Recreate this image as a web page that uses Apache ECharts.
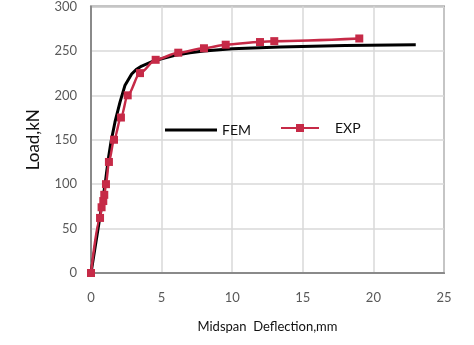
<!DOCTYPE html>
<html>
<head>
<meta charset="utf-8">
<script src="https://cdn.jsdelivr.net/npm/echarts@6/dist/echarts.min.js"></script>
<style>
  html, body { margin: 0; padding: 0; background: #fff; }
  #chart { width: 474px; height: 345px; }
</style>
</head>
<body>
<div id="chart"></div>
<script>
// Load–deflection response: finite element model vs. test
const femDeflection = [0, 0.55, 1.0, 1.11, 1.25, 1.42, 1.7, 2.05, 2.4, 2.88, 3.2, 3.59, 4.41, 5.2, 5.95, 7, 8, 10, 13.4, 18, 23];
const femLoad       = [0, 55, 100, 114, 131, 148, 170, 192, 211, 224, 229, 233, 238.5, 242, 245, 248, 250, 252.5, 254.5, 256, 257];

const expDeflection = [0, 0.64, 0.75, 0.87, 0.94, 1.06, 1.27, 1.63, 2.12, 2.6, 3.47, 4.58, 6.18, 8.0, 9.54, 11.97, 12.98, 19.0];
const expLoad       = [0, 62, 74, 81, 88, 100, 125, 150, 175, 200, 225, 240, 248, 253, 257, 260, 261, 264];

const xTicks = [0, 5, 10, 15, 20, 25];
const yTicks = [0, 50, 100, 150, 200, 250, 300];

const pairs = (xs, ys) => xs.map((x, i) => [x, ys[i]]);

const FONT = 'Lato, "Open Sans", sans-serif';
const RED = '#c62a47';

const chart = echarts.init(document.getElementById('chart'));
chart.setOption({
  animation: false,
  textStyle: { fontFamily: FONT },
  grid: {
    left: 91, right: 30, top: 5, bottom: 72,
    show: true, borderColor: '#8a8a8a', borderWidth: 2
  },
  legend: [
    {
      data: [{ name: 'FEM', icon: 'rect' }], left: 160, top: 118,
      itemWidth: 52, itemHeight: 3,
      itemStyle: { color: '#000' },
      textStyle: { fontSize: 14, color: '#111', fontFamily: FONT }
    },
    {
      data: ['EXP'], left: 275, top: 116,
      itemWidth: 38, itemHeight: 10,
      textStyle: { fontSize: 14, color: '#111', fontFamily: FONT, padding: [0, 0, 0, 11] }
    }
  ],
  xAxis: {
    type: 'value', min: xTicks[0], max: xTicks[xTicks.length - 1], interval: 5,
    name: 'Midspan  Deflection,mm', nameLocation: 'middle', nameGap: 47,
    nameTextStyle: { fontSize: 13, color: '#111', fontFamily: FONT },
    axisLine: { lineStyle: { color: '#8a8a8a', width: 2 } },
    axisTick: { show: false },
    axisLabel: { fontSize: 13, color: '#595959', margin: 18 },
    splitLine: { lineStyle: { color: '#d9d9d9', width: 1.5 } }
  },
  yAxis: {
    type: 'value', min: yTicks[0], max: yTicks[yTicks.length - 1], interval: 50,
    name: 'Load,kN', nameLocation: 'middle', nameGap: 49,
    nameTextStyle: { fontSize: 17, color: '#111', fontFamily: FONT },
    axisLine: { show: true, lineStyle: { color: '#8a8a8a', width: 2 } },
    axisTick: { show: false },
    axisLabel: { fontSize: 13, color: '#595959', margin: 14, padding: [6, 0, 0, 0] },
    splitLine: { lineStyle: { color: '#d9d9d9', width: 1.5 } }
  },
  series: [
    {
      name: 'FEM', type: 'line', smooth: false,
      data: pairs(femDeflection, femLoad),
      showSymbol: false, symbol: 'none',
      lineStyle: { color: '#000', width: 3, join: 'round' },
      itemStyle: { color: '#000' },
      z: 2
    },
    {
      name: 'EXP', type: 'line', smooth: 0.3, smoothMonotone: 'x',
      data: pairs(expDeflection, expLoad),
      symbol: 'rect', symbolSize: 8,
      lineStyle: { color: RED, width: 2.5 },
      itemStyle: { color: RED },
      z: 3
    }
  ]
});
</script>
</body>
</html>
